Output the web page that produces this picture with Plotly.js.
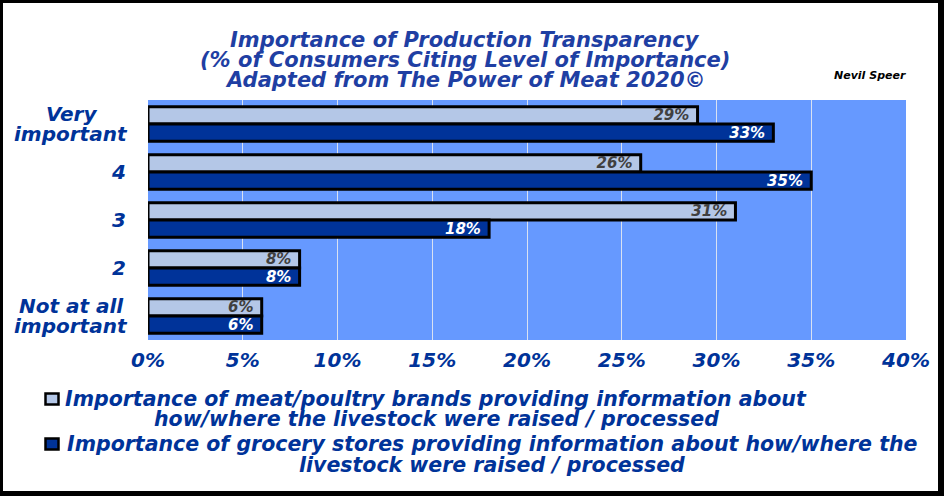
<!DOCTYPE html>
<html>
<head>
<meta charset="utf-8">
<script src="https://cdn.plot.ly/plotly-3.0.1.min.js"></script>
<style>
  html, body { margin: 0; padding: 0; background: #ffffff; }
  #wrap { position: relative; width: 944px; height: 496px; }
  #chart { width: 944px; height: 496px; }
  #frame {
    position: absolute; left: 0; top: 0; width: 944px; height: 496px;
    box-sizing: border-box; pointer-events: none;
    border-style: solid; border-color: #000000;
    border-width: 3px 6px 5px 3px;
  }
</style>
</head>
<body>
<div id="wrap">
  <div id="chart"></div>
  <div id="frame"></div>
</div>
<script>
// Importance levels, top to bottom
const categories = ["Very important", "4", "3", "2", "Not at all important"];
const categoryLines = [["Very", "important"], ["4"], ["3"], ["2"], ["Not at all", "important"]];

// % of consumers citing each level
const brandValues = [29, 26, 31, 8, 6];
const groceryValues = [33, 35, 18, 8, 6];

const seriesNames = [
  ["Importance of meat/poultry brands providing information about", "how/where the livestock were raised / processed"],
  ["Importance of grocery stores providing information about how/where the", "livestock were raised / processed"]
];

const titleLines = [
  "Importance of Production Transparency",
  "(% of Consumers Citing Level of Importance)",
  "Adapted from The Power of Meat 2020\u00A9"
];
const credit = "Nevil Speer";

const xTickVals = [0, 5, 10, 15, 20, 25, 30, 35, 40];

// plot area in pixels
const W = 944, H = 496;
const PL = 148, PR = 906, PT = 100, PB = 340;
const px = x => (x - PL) / (PR - PL);
const py = y => (PB - y) / (PB - PT);

const FAMILY = "DejaVu Sans";
const NAVY = "#003399";
const TITLE_BLUE = "#1f3fa3";
const LIGHT = "#b4c7e7";

const bi = (size, color) => ({ family: FAMILY, size: size, color: color, weight: "bold", style: "italic" });

// value labels sit a little in from the bar end
const pct = v => v + "%\u00A0";

const traces = [
  {
    type: "bar", orientation: "h", name: seriesNames[0].join(" "),
    y: categories, x: brandValues,
    marker: { color: LIGHT, line: { color: "#000000", width: 3 } },
    text: brandValues.map(pct),
    textposition: "inside", insidetextanchor: "end", constraintext: "none",
    textfont: bi(15, "#404040"),
    hoverinfo: "x+y", showlegend: false
  },
  {
    type: "bar", orientation: "h", name: seriesNames[1].join(" "),
    y: categories, x: groceryValues,
    marker: { color: NAVY, line: { color: "#000000", width: 3 } },
    text: groceryValues.map(pct),
    textposition: "inside", insidetextanchor: "end", constraintext: "none",
    textfont: bi(15, "#ffffff"),
    hoverinfo: "x+y", showlegend: false
  }
];

const annotations = [];

// title block
titleLines.forEach((t, i) => {
  annotations.push({
    text: t, xref: "paper", yref: "paper", x: px(465), y: py(40 + i * 20),
    xanchor: "center", yanchor: "middle", showarrow: false, font: bi(21, TITLE_BLUE)
  });
});
annotations.push({
  text: credit, xref: "paper", yref: "paper", x: px(870), y: py(76),
  xanchor: "center", yanchor: "middle", showarrow: false, font: bi(11, "#000000")
});

// category labels (multi-line labels centred on each other); y by category index
categories.forEach((c, i) => {
  const lines = categoryLines[i];
  lines.forEach((ln, j) => {
    const shift = (lines.length - 1) * 10 - j * 20;
    annotations.push({
      text: ln, xref: "paper", yref: "y", x: lines.length > 1 ? px(71) : px(128), y: i,
      yshift: shift, xanchor: lines.length > 1 ? "center" : "right", yanchor: "middle",
      showarrow: false, font: bi(20, NAVY)
    });
  });
});

// legend
const legendRows = [
  { lineY: [399, 419], cx: 436, sq: 399, fill: LIGHT },
  { lineY: [444, 465], cx: 492, sq: 444, fill: NAVY }
];
const shapes = [];
legendRows.forEach((r, i) => {
  seriesNames[i].forEach((ln, j) => {
    annotations.push({
      text: ln, xref: "paper", yref: "paper", x: px(r.cx), y: py(r.lineY[j]),
      xanchor: "center", yanchor: "middle", showarrow: false, font: bi(20.5, NAVY)
    });
  });
  shapes.push({
    type: "rect", xref: "paper", yref: "paper",
    x0: px(45.5), x1: px(58.5), y0: py(r.sq - 5.5), y1: py(r.sq + 5.5),
    fillcolor: r.fill, line: { color: "#000000", width: 2.5 }
  });
});

const layout = {
  width: W, height: H,
  margin: { l: PL, r: W - PR, t: PT, b: H - PB, pad: 0 },
  paper_bgcolor: "#ffffff",
  plot_bgcolor: "#6699ff",
  barmode: "group",
  bargap: 0.28,
  bargroupgap: 0,
  showlegend: false,
  xaxis: {
    range: [0, 40], tickvals: xTickVals, ticktext: xTickVals.map(v => v + "%"),
    showgrid: true, gridcolor: "#d9e1f2", gridwidth: 1,
    zeroline: false, showline: false, ticks: "",
    tickfont: bi(20, NAVY), ticklabelstandoff: 6, fixedrange: true
  },
  yaxis: {
    type: "category", categoryorder: "array", categoryarray: categories,
    autorange: "reversed", showticklabels: false, showgrid: false,
    zeroline: false, showline: false, ticks: "", fixedrange: true
  },
  annotations: annotations,
  shapes: shapes
};

Plotly.newPlot("chart", traces, layout, { displayModeBar: false, staticPlot: true });
</script>
</body>
</html>
